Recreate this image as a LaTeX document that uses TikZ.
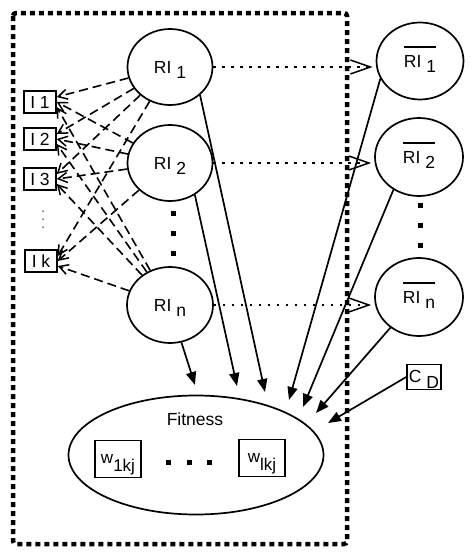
\documentclass[tikz,border=0pt]{standalone}
\usepackage{fontspec}
\setmainfont{Liberation Sans}
\usetikzlibrary{arrows.meta,shapes.geometric}
\newsavebox\olbox
\newcommand{\olab}[1]{\sbox\olbox{RI \raisebox{-5pt}{#1}}\rlap{\rule[19pt]{\wd\olbox}{1.8pt}}\usebox\olbox}
\begin{document}
\begin{tikzpicture}[x=1pt,y=-1pt, line width=1.7pt, font=\fontsize{17.5}{20}\selectfont,
 ri/.style={ellipse,draw,minimum width=85pt,minimum height=76pt,inner sep=0pt,text height=17pt,text depth=5pt},
 ibox/.style={rectangle,draw,minimum width=32pt,minimum height=22pt,inner sep=0pt,line width=1.5pt},
 wbox/.style={rectangle,draw,minimum width=46pt,minimum height=37pt,inner sep=0pt,line width=1.5pt,font=\fontsize{17}{20}\selectfont,text height=18pt,text depth=10pt},
 dasharrow/.style={line width=1.6pt,dash pattern=on 9pt off 5pt,-{Straight Barb[length=9pt,width=10pt,line width=1.5pt]}},
 dotarrow/.style={line width=2.2pt, dash pattern=on 2.2pt off 6.8pt, -{Straight Barb[length=20pt,width=14pt,line width=1.5pt]}, shorten >=3pt},
 solidarrow/.style={-{Triangle[length=13pt,width=10pt]}},
 sq/.style={fill,minimum size=5pt,inner sep=0pt,rectangle},
 tinydot/.style={fill,circle,minimum size=1.5pt,inner sep=0pt}
]
\useasboundingbox (0,0) rectangle (474,554);
% dotted frame
\draw[line width=4.5pt, dash pattern=on 5pt off 4pt, rounded corners=3pt] (13,13) rectangle (347,544);

% RI nodes
\node[ri] (RI1) at (170,67) {RI \raisebox{-5pt}{1}};
\node[ri] (RI2) at (170,163) {RI \raisebox{-5pt}{2}};
\node[ri,minimum width=86pt] (RIn) at (170,305) {RI \raisebox{-5pt}{n}};
\node[sq] (d1) at (173,213) {};
\node[sq] (d2) at (173,233) {};
\node[sq] (d3) at (173,253) {};

% RI bar nodes
\node[ri,minimum width=87pt,minimum height=77pt] (RIb1) at (420,61) {\olab{1}};
\node[ri,minimum width=88pt,minimum height=78pt] (RIb2) at (419,157) {\olab{2}};
\node[ri,minimum width=88pt,minimum height=78pt] (RIbn) at (419,297) {\olab{n}};
\node[sq] (e1) at (420,205) {};
\node[sq] (e2) at (420,225) {};
\node[sq] (e3) at (420,245) {};

% I boxes
\node[ibox] (I1) at (40,102) {I 1};
\node[ibox] (I2) at (40,139) {I 2};
\node[ibox] (I3) at (40,179) {I 3};
\node[ibox] (Ik) at (41,261) {I k};
\node[tinydot] (v1) at (43,211) {};
\node[tinydot] (v2) at (43,219) {};
\node[tinydot] (v3) at (43,227) {};

% C_D box
\node[ibox,minimum width=34pt,minimum height=25pt,text height=16pt,text depth=6pt] (CD) at (424,377) {C \raisebox{-6pt}{D}};

% Fitness
\node[ellipse,draw,minimum width=255pt,minimum height=119pt,inner sep=0pt] (F) at (196,455) {};
\node (ft) at (195,419) {Fitness};
\node[wbox] (w1) at (118,459) {w\raisebox{-8pt}{1kj}};
\node[wbox] (wl) at (262,458) {w\raisebox{-8pt}{lkj}};
\node[sq] (f1) at (168,462) {};
\node[sq] (f2) at (189,462) {};
\node[sq] (f3) at (209,462) {};

% dashed arrows RI -> I
\foreach \r/\s in {RI1/5pt,RI2/0pt,RIn/-5pt}{
  \foreach \i in {I1,I2,I3,Ik}{
    \draw[dasharrow] (\r) -- ([yshift=\s]\i.east);
  }
}

% dotted arrows RI -> RI bar
\draw[dotarrow] (RI1.east) -- (RI1.east -| RIb1.west);
\draw[dotarrow] (RI2.east) -- (RI2.east -| RIb2.west);
\draw[dotarrow] (RIn.east) -- (RIn.east -| RIbn.west);

% arrows into Fitness
\coordinate (t1) at (195,385);
\coordinate (t2) at (237,386);
\coordinate (t3) at (265,392);
\coordinate (t4) at (289,400);
\coordinate (t5) at (303,407);
\coordinate (t6) at (316,413);
\coordinate (t7) at (328,423);
\draw[solidarrow] (RIn.-73) -- (t1);
\draw[solidarrow] (RI2.-52) -- (t2);
\draw[solidarrow] (RI1.-43) -- (t3);
\draw[solidarrow] (RIb1.204) -- (t4);
\draw[solidarrow] (RIb2.232) -- (t5);
\draw[solidarrow] (RIbn.227) -- (t6);
\draw[solidarrow] (CD.west) -- (t7);
\end{tikzpicture}
\end{document}
